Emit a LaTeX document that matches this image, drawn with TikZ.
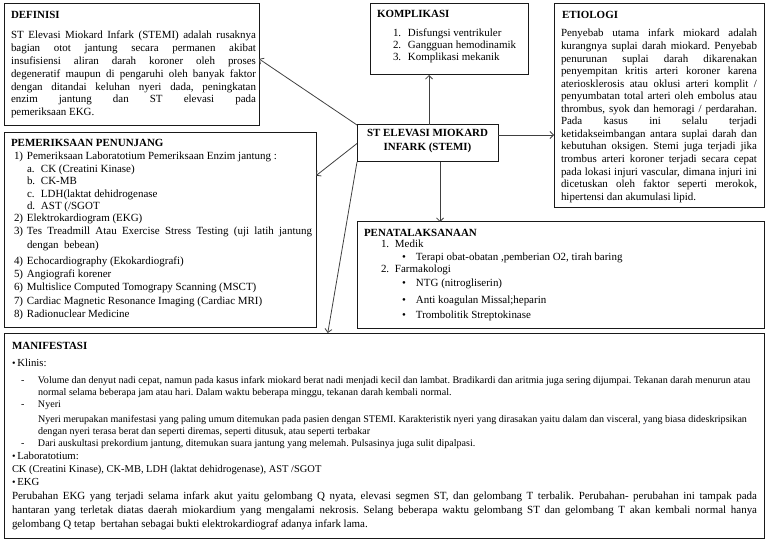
\documentclass[tikz,border=0pt]{standalone}
\usepackage{fontspec}
\setmainfont{Liberation Serif}
\usetikzlibrary{arrows.meta,calc}
\newcommand{\jl}[2]{\makebox[#1][s]{#2}}
\newcommand{\mytitle}{\fontsize{11}{13}\selectfont\bfseries}
\newcommand{\mybul}{{\fontsize{10}{10}\selectfont •}}
\frenchspacing
\begin{document}
\begin{tikzpicture}[x=1bp,y=-1bp,
  box/.style={draw=black!90, line width=1bp, inner sep=0pt, outer sep=0pt, anchor=north west},
  arr/.style={draw=black!75, line width=0.8bp, -{Straight Barb[length=3.5bp,width=7bp]}},
  txt/.style={inner sep=0pt, outer sep=0pt, anchor=base west, align=left}]
\useasboundingbox (0,0) rectangle (768,543);

% boxes
\node[box, minimum width=255bp, minimum height=122bp] (def) at (4,4) {};
\node[box, minimum width=158bp, minimum height=71bp] (kom) at (370,4) {};
\node[box, minimum width=210bp, minimum height=203bp] (eti) at (554,4) {};
\node[box, minimum width=141bp, minimum height=37bp] (cen) at (357,125) {};
\node[box, minimum width=312bp, minimum height=194bp] (pem) at (4,133) {};
\node[box, minimum width=407bp, minimum height=106bp] (pen) at (357,222) {};
\node[box, minimum width=760bp, minimum height=205bp] (man) at (4,333) {};

% central
\node[inner sep=0pt, align=center, font=\fontsize{11}{13.5}\selectfont\bfseries] (cent) at ($(cen.center)+(0,-2.5)$) {ST ELEVASI MIOKARD\\INFARK (STEMI)};

% DEFINISI
\node[txt, font=\mytitle] (deft) at (11,19) {DEFINISI};
\node[txt] (defb) at (11,39) {\parbox[t]{245bp}{\fontsize{11}{12.8}\selectfont
\jl{245bp}{ST Elevasi Miokard Infark (STEMI) adalah rusaknya}\\
\jl{245bp}{bagian otot jantung secara permanen akibat}\\
\jl{245bp}{insufisiensi aliran darah koroner oleh proses}\\
\jl{245bp}{degeneratif maupun di pengaruhi oleh banyak faktor}\\
\jl{245bp}{dengan ditandai keluhan nyeri dada, peningkatan}\\
\jl{245bp}{enzim jantung dan ST elevasi pada}\\
pemeriksaan EKG.}};

% KOMPLIKASI
\node[txt, font=\mytitle] (komt) at (377,18) {KOMPLIKASI};
\node[txt] (komb) at (393,37) {\parbox[t]{130bp}{\fontsize{11}{12}\selectfont
\makebox[15bp][l]{1.}Disfungsi ventrikuler\\
\makebox[15bp][l]{2.}Gangguan hemodinamik\\
\makebox[15bp][l]{3.}Komplikasi mekanik}};

% ETIOLOGI
\node[txt, font=\mytitle] (etit) at (562,19) {ETIOLOGI};
\node[txt] (etib) at (561,37) {\parbox[t]{196bp}{\fontsize{11}{12.6}\selectfont
\jl{196bp}{Penyebab utama infark miokard adalah}\\
\jl{196bp}{kurangnya suplai darah miokard. Penyebab}\\
\jl{196bp}{penurunan suplai darah dikarenakan}\\
\jl{196bp}{penyempitan kritis arteri koroner karena}\\
\jl{196bp}{aterioskle\-rosis atau oklusi arteri komplit /}\\
\jl{196bp}{penyumbatan total arteri oleh embolus atau}\\
\jl{196bp}{thrombus, syok dan hemoragi / perdarahan.}\\
\jl{196bp}{Pada kasus ini selalu terjadi}\\
\jl{196bp}{ketidakseimbangan antara suplai darah dan}\\
\jl{196bp}{kebutuhan oksigen. Stemi juga terjadi jika}\\
\jl{196bp}{trombus arteri koroner terjadi secara cepat}\\
\jl{196bp}{pada lokasi injuri vascular, dimana injuri ini}\\
\jl{196bp}{dicetuskan oleh faktor seperti merokok,}\\
hipertensi dan akumulasi lipid.}};

% PEMERIKSAAN PENUNJANG
\node[txt, font=\mytitle] (pemt) at (11,147) {PEMERIKSAAN PENUNJANG};
\node[txt] (pemb) at (14,160) {\parbox[t]{300bp}{\fontsize{11}{12.4}\selectfont
\makebox[13bp][l]{1)}Pemeriksaan Laboratotium Pemeriksaan Enzim jantung :\\
\hspace*{13bp}\makebox[14bp][l]{a.}CK (Creatini Kinase)\\
\hspace*{13bp}\makebox[14bp][l]{b.}CK-MB\\
\hspace*{13bp}\makebox[14bp][l]{c.}LDH(laktat dehidrogenase\\
\hspace*{13bp}\makebox[14bp][l]{d.}AST (/SGOT\\
\makebox[13bp][l]{2)}Elektrokardiogram (EKG)\\
\makebox[13bp][l]{3)}\jl{285bp}{Tes Treadmill Atau Exercise Stress Testing (uji latih jantung}\\[1.6bp]
\hspace*{13bp}dengan\ \ bebean)\\[3.6bp]
\makebox[13bp][l]{4)}Echocardiography (Ekokardiografi)\\[1.1bp]
\makebox[13bp][l]{5)}Angiografi korener\\[1.1bp]
\makebox[13bp][l]{6)}Multislice Computed Tomograpy Scanning (MSCT)\\[1.1bp]
\makebox[13bp][l]{7)}Cardiac Magnetic Resonance Imaging (Cardiac MRI)\\[1.1bp]
\makebox[13bp][l]{8)}Radionuclear Medicine}};

% PENATALAKSANAAN
\node[txt, font=\mytitle] (pent) at (364,237) {PENATALAKSANAAN};
\node[txt] (penb) at (381,248) {\parbox[t]{370bp}{\fontsize{11}{12.5}\selectfont
\makebox[14bp][l]{1.}Medik\\[0.5bp]
\hspace*{21bp}\makebox[14bp][l]{•}Terapi obat-obatan ,pemberian O2, tirah baring\\[-0.5bp]
\makebox[14bp][l]{2.}Farmakologi\\[1.5bp]
\hspace*{21bp}\makebox[14bp][l]{•}NTG (nitrogliserin)\\[4.5bp]
\hspace*{21bp}\makebox[14bp][l]{•}Anti koagulan Missal;heparin\\[2.5bp]
\hspace*{21bp}\makebox[14bp][l]{•}Trombolitik Streptokinase}};

% MANIFESTASI
\node[txt, font=\mytitle] (mant) at (12,349) {MANIFESTASI};
\node[txt, font=\fontsize{10.8}{12}\selectfont] (mank) at (12,366) {\mybul\,Klinis:};
\node[txt] (mani) at (21,383.5) {\parbox[t]{742bp}{\fontsize{10.1}{12}\selectfont
\makebox[17bp][l]{-}Volume dan denyut nadi cepat, namun pada kasus infark miokard berat nadi menjadi kecil dan lambat. Bradikardi dan aritmia juga sering dijumpai. Tekanan darah menurun atau\\
\hspace*{17bp}normal selama beberapa jam atau hari. Dalam waktu beberapa minggu, tekanan darah kembali normal.\\
\makebox[17bp][l]{-}Nyeri\\[3bp]
\hspace*{17bp}Nyeri merupakan manifestasi yang paling umum ditemukan pada pasien dengan STEMI. Karakteristik nyeri yang dirasakan yaitu dalam dan visceral, yang biasa dideskripsikan\\
\hspace*{17bp}dengan nyeri terasa berat dan seperti diremas, seperti ditusuk, atau seperti terbakar\\
\makebox[17bp][l]{-}Dari auskultasi prekordium jantung, ditemukan suara jantung yang melemah. Pulsasinya juga sulit dipalpasi.}};
\node[txt, font=\fontsize{10.8}{12}\selectfont] (manl) at (12,459.5) {\mybul\,Laboratotium:};
\node[txt, font=\fontsize{10.5}{12}\selectfont] (manc) at (12,472) {CK (Creatini Kinase), CK-MB, LDH (laktat dehidrogenase), AST /SGOT};
\node[txt, font=\fontsize{10.8}{12}\selectfont] (mane) at (12,485) {\mybul\,EKG};
\node[txt] (manp) at (12,499) {\parbox[t]{745bp}{\fontsize{11}{14.2}\selectfont
\jl{745bp}{Perubahan EKG yang terjadi selama infark akut yaitu gelombang Q nyata, elevasi segmen ST, dan gelombang T terbalik. Perubahan- perubahan ini tampak pada}\\
\jl{745bp}{hantaran yang terletak diatas daerah miokardium yang mengalami nekrosis. Selang beberapa waktu gelombang ST dan gelombang T akan kembali normal hanya}\\
gelombang Q tetap\ \ bertahan sebagai bukti elektrokardiograf adanya infark lama.}};

% connectors
\coordinate (cup) at ($(cen.north)+(1.5,0)$);
\coordinate (cdn) at ($(cen.south)+(12.5,0)$);
\coordinate (crt) at ($(cen.east)+(0,-8.5)$);
\draw[arr] (cup) -- (cup |- kom.south);
\draw[arr] (crt) -- (crt -| eti.west);
\draw[arr] (cdn) -- (cdn |- pen.north);
\draw[arr] (cen.north west) -- ($(def.north east)!0.45!(def.south east)$);
\draw[arr] (cen.west) -- ($(pem.north east)!0.22!(pem.south east)$);
\draw[arr] (cen.south west) -- ($(man.north west)!0.426!(man.north east)$);
\end{tikzpicture}
\end{document}
